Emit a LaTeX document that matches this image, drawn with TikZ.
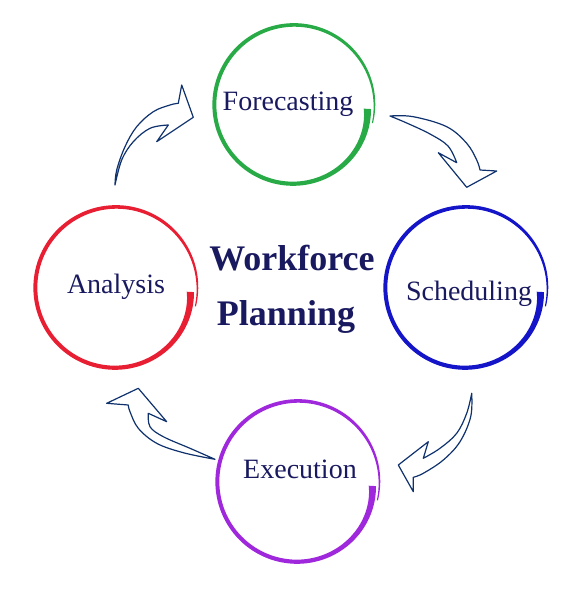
\documentclass[tikz,border=0pt]{standalone}
\usepackage{fontspec}
\setmainfont{Liberation Serif}
\usepackage{tikz}
\definecolor{navytext}{RGB}{25,25,95}
\definecolor{arrowblue}{RGB}{15,50,110}
\definecolor{ringgreen}{RGB}{40,170,70}
\definecolor{ringblue}{RGB}{20,20,200}
\definecolor{ringred}{RGB}{232,30,50}
\definecolor{ringpurple}{RGB}{160,40,220}

\tikzset{
    declare function={rmid(\ang,\rad)=\rad-6*exp(-\ang/40)+1.5*\ang/375;
                      hw(\ang)=2+1.8*exp(-\ang/30)-1.5*(\ang/375)^6;},
    lbl/.style={inner sep=0pt, anchor=base, text=navytext,
                font=\fontsize{28}{30}\selectfont},
    bigtitle/.style={inner sep=0pt, anchor=base, text=navytext,
                font=\bfseries\fontsize{36}{40}\selectfont},
    flow/.style={draw=arrowblue, line width=1.2pt, line join=round, fill=white}
}
% hand drawn ring round a named centre
\newcommand{\brushring}[3]{%
    \begin{scope}[shift={(#1)}]
    \fill[#3] plot[domain=3:373, samples=90, smooth]
        ({(rmid(\x,#2)+hw(\x))*cos(\x)}, {(rmid(\x,#2)+hw(\x))*sin(\x)})
        -- plot[domain=373:3, samples=90, smooth]
        ({(rmid(\x,#2)-hw(\x))*cos(\x)}, {(rmid(\x,#2)-hw(\x))*sin(\x)})
        -- cycle;
    \end{scope}}

\begin{document}
\begin{tikzpicture}[x=1pt, y=-1pt]
    \useasboundingbox (0,0) rectangle (576,608);

    \coordinate (fc) at (294,105);
    \coordinate (sc) at (466,288);
    \coordinate (an) at (116,288);
    \coordinate (ex) at (298,482);

    \brushring{fc}{79}{ringgreen}
    \brushring{sc}{80}{ringblue}
    \brushring{an}{80}{ringred}
    \brushring{ex}{80}{ringpurple}

    \node[lbl] (forecasting) at (288,110) {Forecasting};
    \node[lbl] (scheduling) at (469,300) {Scheduling};
    \node[lbl] (analysis) at (116,293) {Analysis};
    \node[lbl] (execution) at (300,478) {Execution};

    \node[bigtitle] (workforce) at (292,270) {Workforce};
    \node[bigtitle] (planning) at (286,325) {Planning};

    % analysis -> forecasting
    \draw[flow] plot[smooth, tension=0.6] coordinates {(115,185) (116.7,170) (125,146.7)
        (136.7,126.7) (153.3,111.7) (170,105) (178.3,103.3)}
        -- (181.7,85) -- (193.3,117.3) -- (156.7,141.7)
        -- plot[smooth, tension=0.6] coordinates {(168.3,125) (150,128.3)
        (133.3,141.7) (121.7,160) (115,185)} -- cycle;

    % forecasting -> scheduling
    \draw[flow] plot[smooth, tension=0.6] coordinates {(390,116) (413.3,116.7)
        (446.7,126.7) (466.7,143.3) (476.7,160) (480,170)}
        -- (496.7,171) -- (466.7,187.3) -- (438.3,152.7)
        -- plot[smooth, tension=0.6] coordinates {(456.7,162.7) (448,146)
        (430,134) (406.7,123) (390,116)} -- cycle;

    % scheduling -> execution
    \draw[flow] plot[smooth, tension=0.6] coordinates {(471.7,393.3) (470.7,416.7)
        (460,441.7) (443.3,460) (423.3,473.3) (413.3,477.3)}
        -- (413.3,491.7) -- (398.3,465) -- (428.3,441.7)
        -- plot[smooth, tension=0.6] coordinates {(423.3,458.3) (440,448.3)
        (456.7,433.3) (466.7,413.3) (471.7,393.3)} -- cycle;

    % execution -> analysis
    \draw[flow] plot[smooth, tension=0.6] coordinates {(215,459.3) (183.3,452.7)
        (156.7,443.3) (138.3,428.3) (130,411.7) (128.3,405)}
        -- (106.7,403.3) -- (138.3,388.3) -- (166.7,421.7)
        -- plot[smooth, tension=0.6] coordinates {(148.3,413.3) (150,426.7)
        (163.3,436.7) (190,448.3) (215,459.3)} -- cycle;
\end{tikzpicture}
\end{document}
